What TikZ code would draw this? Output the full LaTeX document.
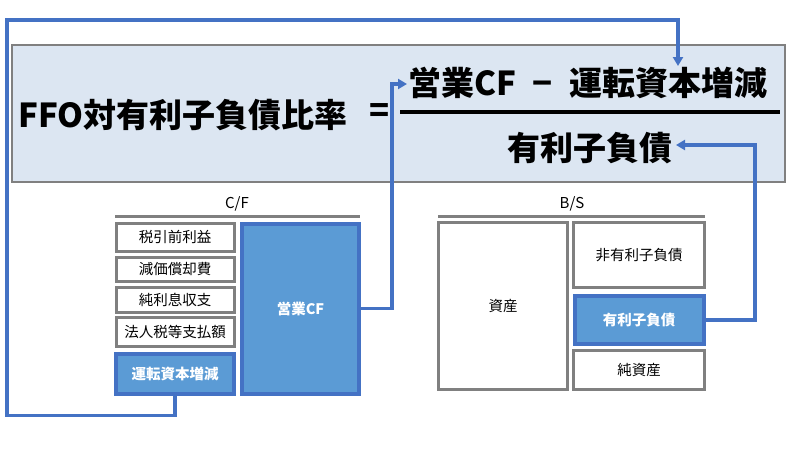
\documentclass[tikz,border=0pt]{standalone}
\usepackage{fontspec}
\setmainfont{Noto Sans CJK JP}
\usetikzlibrary{arrows.meta}
\definecolor{bandblue}{HTML}{DCE6F2}
\definecolor{boxblue}{HTML}{5B9BD5}
\definecolor{lineblue}{HTML}{4472C4}
\tikzset{
  item/.style={draw=gray, line width=3pt, fill=white, inner sep=0pt, font=\fontsize{14.5}{17}\selectfont},
  hot/.style={draw=lineblue, line width=4pt, fill=boxblue, text=white, inner sep=0pt, font=\bfseries\fontsize{14.5}{17}\selectfont},
  link/.style={lineblue, line width=3.5pt, -{Triangle[length=9pt,width=10pt]}},
  big/.style={font=\bfseries\fontsize{33}{36}\selectfont}
}
\begin{document}
\begin{tikzpicture}[x=1pt,y=-1pt]
\useasboundingbox (0,0) rectangle (800,450);
% formula band
\draw[gray, line width=1.5pt, fill=bandblue] (12,45) rectangle (785,182);
\node[big, anchor=west, inner sep=0pt] (ratio) at (18,115) {FFO対有利子負債比率};
\node[big] (eq) at (380,113) {=};
\node[big, anchor=west, inner sep=0pt] (num) at (408,83) {営業CF\,\,\,−\,\,\,運転資本増減};
\draw[line width=3.5pt] (400,112) -- (780,112);
\node[big] (den) at (590,148) {有利子負債};
\coordinate (numwc) at (678,66);
\coordinate (numcf) at (407,84);
\coordinate (denr) at (676,145);
% C/F
\node[font=\fontsize{15}{18}\selectfont] (cf) at (237,204) {C/F};
\draw[gray, line width=3pt] (115,216) -- (360,216);
\node[item, minimum width=118pt, minimum height=28pt] (pre) at (175,237) {税引前利益};
\node[item, minimum width=118pt, minimum height=24pt] (dep) at (175,269.5) {減価償却費};
\node[item, minimum width=118pt, minimum height=25pt] (int) at (175,299.5) {純利息収支};
\node[item, minimum width=118pt, minimum height=29pt] (tax) at (175,331.5) {法人税等支払額};
\node[hot, minimum width=118pt, minimum height=40pt] (wc) at (175,373.5) {運転資本増減};
\node[hot, minimum width=117pt, minimum height=170pt] (ocf) at (300.5,308.5) {営業CF};
% B/S
\node[font=\fontsize{15}{18}\selectfont] (bs) at (572,204) {B/S};
\draw[gray, line width=3pt] (438,216) -- (705,216);
\node[item, minimum width=129pt, minimum height=167pt] (asset) at (503,306) {資産};
\node[item, minimum width=131pt, minimum height=65pt] (nonint) at (639,255) {非有利子負債};
\node[hot, minimum width=129pt, minimum height=48pt] (debt) at (639,320) {有利子負債};
\node[item, minimum width=131pt, minimum height=39pt] (eqty) at (639,370) {純資産};
% connectors
\draw[link] (wc.south) -- ++(0,20) -| (7,20) -| (numwc);
\draw[link] (ocf.east) -| (392,84) -- (numcf);
\draw[link] (debt.east) -| (755,145) -- (denr);
\end{tikzpicture}
\end{document}
